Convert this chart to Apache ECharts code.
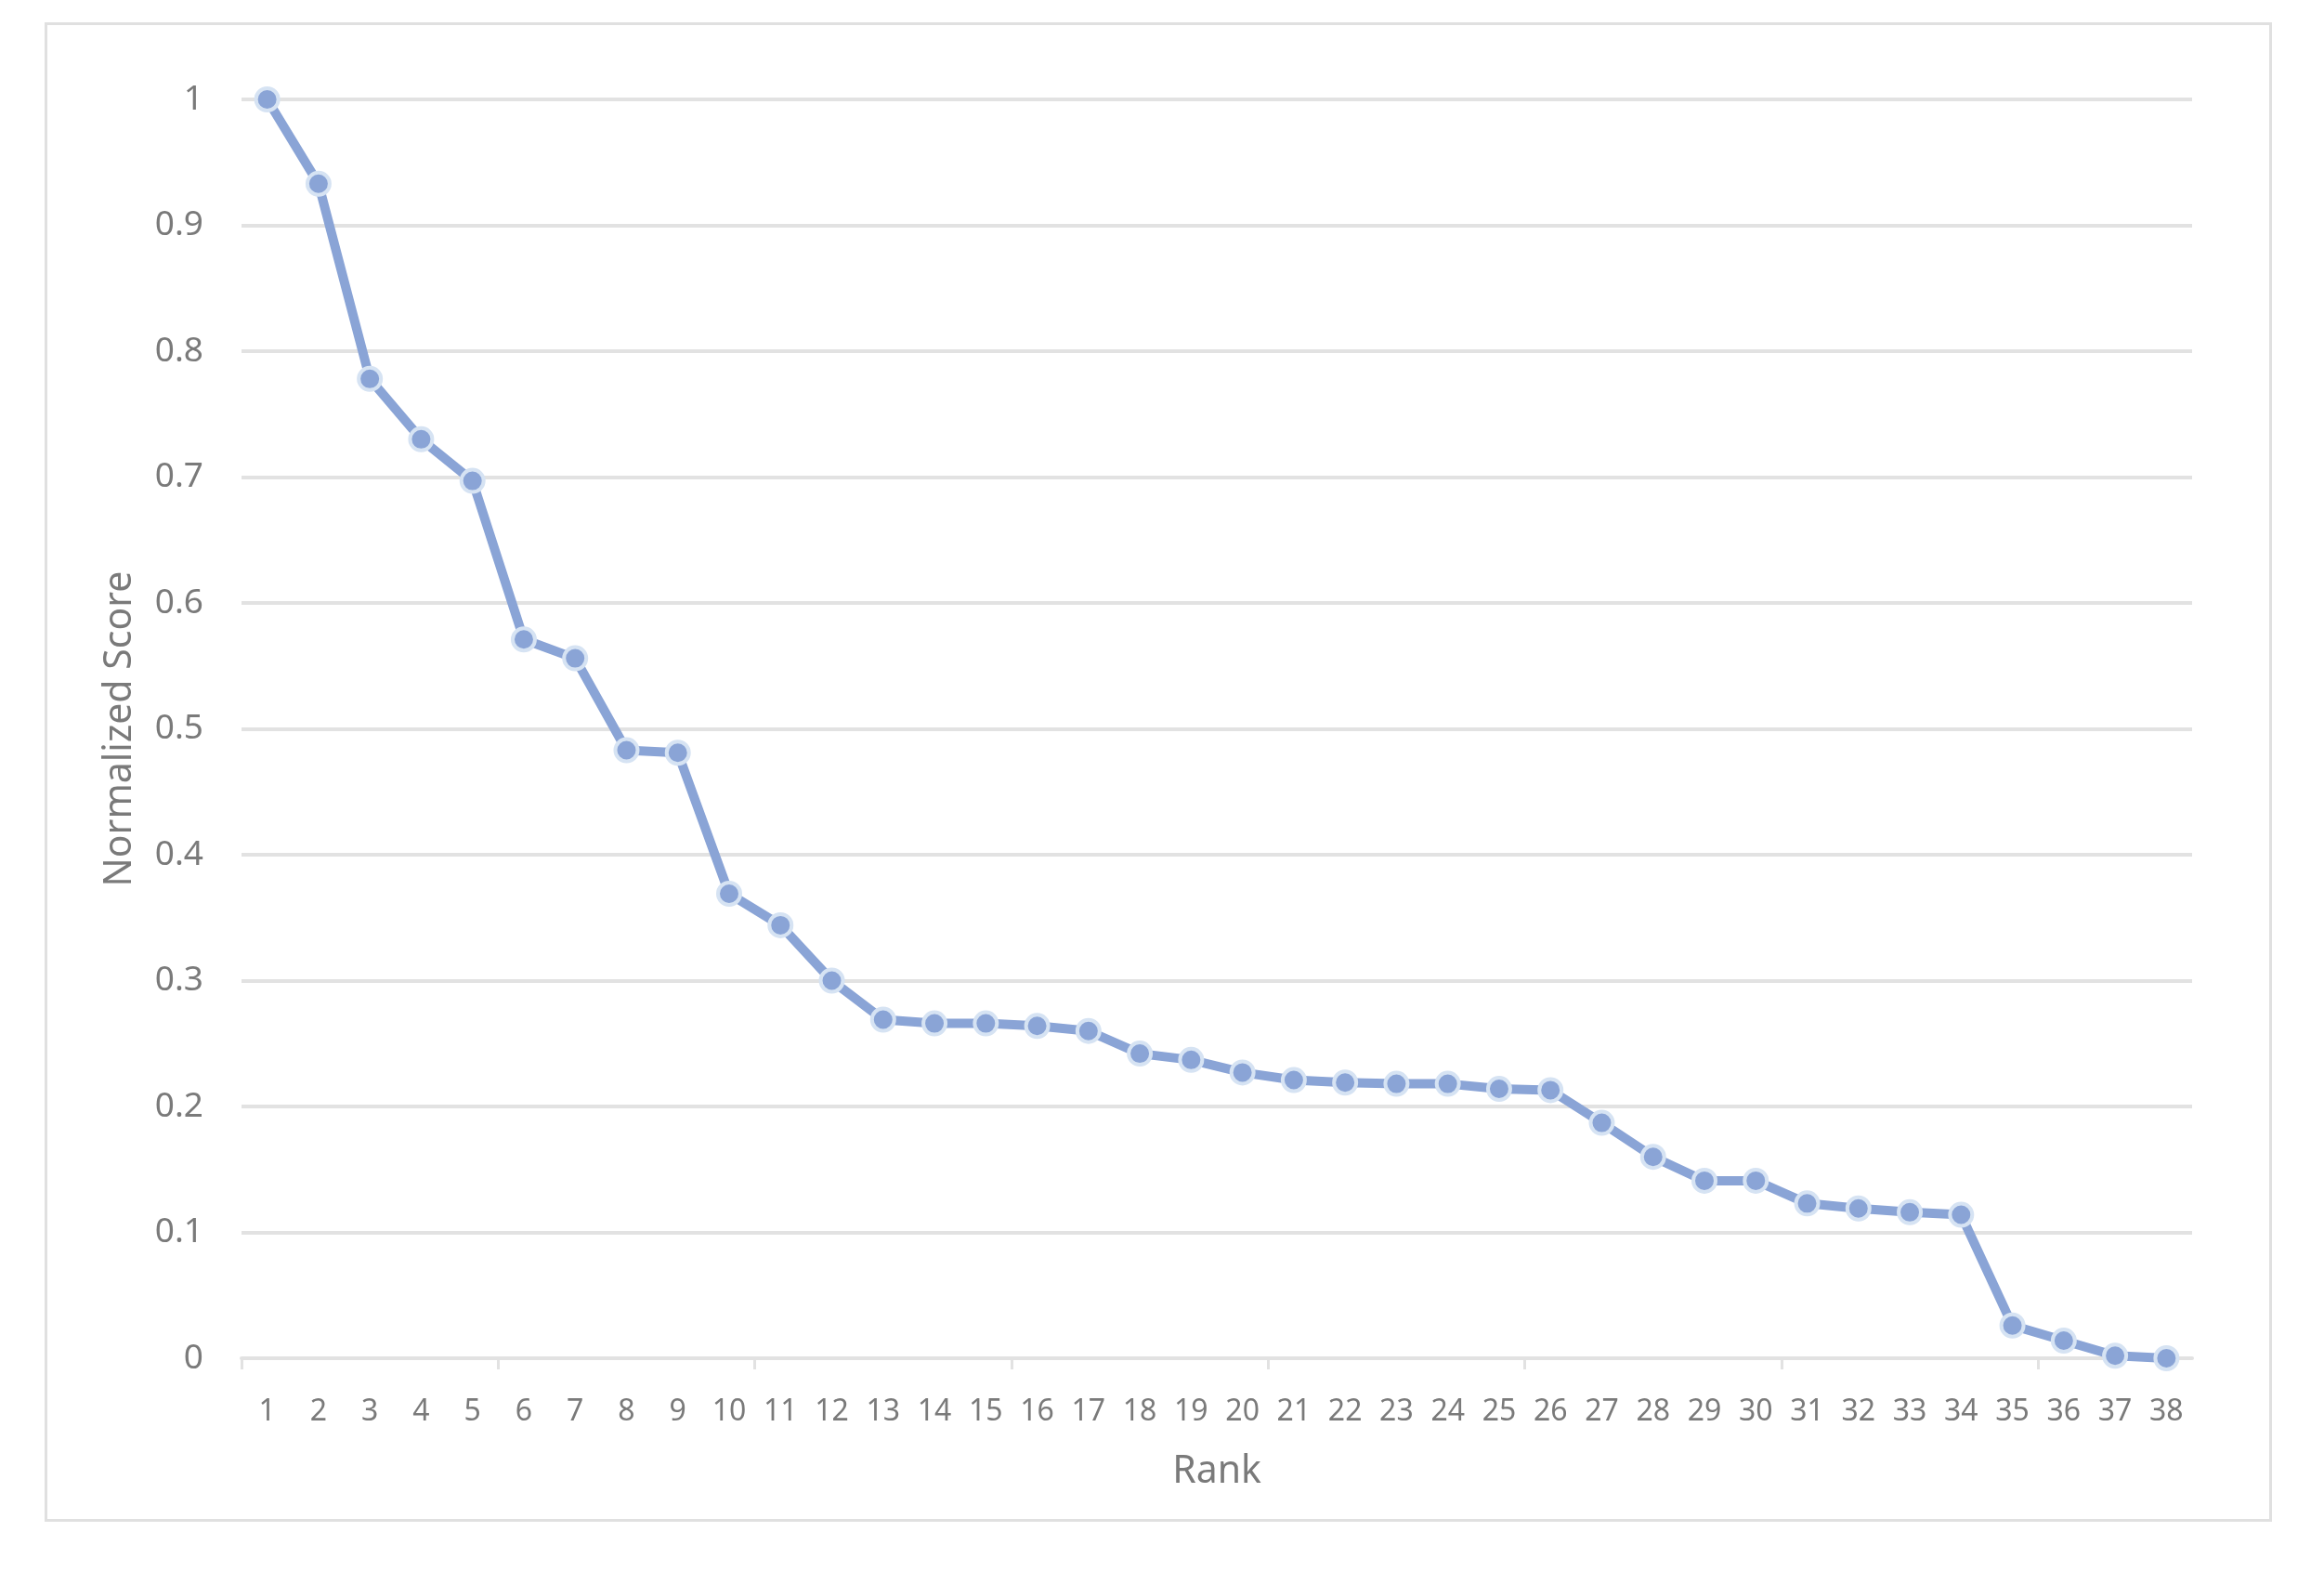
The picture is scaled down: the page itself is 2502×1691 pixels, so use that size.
<!DOCTYPE html>
<html>
<head>
    <meta charset="utf-8">
    <title>Normalized Score by Rank</title>
    <script src="https://cdn.jsdelivr.net/npm/echarts@6/dist/echarts.min.js"></script>
    <style>
        html, body { margin: 0; padding: 0; background: #fff; }
        #main { width: 2502px; height: 1691px; }
    </style>
</head>
<body>
    <div id="main"></div>
    <script type="text/javascript">
        // values
        var ranks = [];
        for (var r = 1; r <= 38; r++) ranks.push(r);
        var scores = [
            1.000, 0.933, 0.778, 0.730, 0.697, 0.571, 0.556, 0.483, 0.481, 0.369,
            0.344, 0.300, 0.269, 0.266, 0.266, 0.264, 0.260, 0.242, 0.237, 0.227,
            0.221, 0.219, 0.218, 0.218, 0.214, 0.213, 0.187, 0.160, 0.141, 0.141,
            0.123, 0.119, 0.116, 0.114, 0.026, 0.014, 0.002, 0.000
        ];
        var yTicks = [0, 0.1, 0.2, 0.3, 0.4, 0.5, 0.6, 0.7, 0.8, 0.9, 1];
        // ticks sit between groups of five ranks
        var xTickPos = [0.5, 5.5, 10.5, 15.5, 20.5, 25.5, 30.5, 35.5];

        var grey = '#7a7a7a';
        var gridGrey = '#e2e2e2';
        var font = '"Noto Sans", "Open Sans", sans-serif';

        var points = ranks.map(function (rk, i) { return [rk, scores[i]]; });

        var myChart = echarts.init(document.getElementById('main'));
        var option = {
            backgroundColor: '#fff',
            animation: false,
            graphic: [{
                type: 'rect',
                left: 47, top: 23,
                shape: { width: 2395, height: 1611 },
                style: { fill: 'none', stroke: '#e0e0e0', lineWidth: 3 },
                silent: true
            }],
            grid: { left: 260, right: 142, top: 107, bottom: 229 },
            xAxis: {
                type: 'value',
                min: 0.5,
                max: 38.5,
                name: 'Rank',
                nameLocation: 'middle',
                nameGap: 102,
                nameTextStyle: { color: grey, fontSize: 41, fontFamily: font },
                axisLine: { show: true, lineStyle: { color: gridGrey, width: 4 } },
                axisTick: {
                    show: true, length: 12, customValues: xTickPos,
                    lineStyle: { color: gridGrey, width: 3 }
                },
                axisLabel: {
                    customValues: ranks,
                    color: grey, fontSize: 32, fontFamily: font, margin: 42
                },
                splitLine: { show: false }
            },
            yAxis: {
                type: 'value',
                min: 0,
                max: 1,
                interval: 0.1,
                name: 'Normalized Score',
                nameLocation: 'middle',
                nameGap: 110,
                nameTextStyle: { color: grey, fontSize: 41, fontFamily: font },
                axisLine: { show: false },
                axisTick: { show: false },
                axisLabel: {
                    color: grey, fontSize: 37, fontFamily: font, margin: 41,
                    formatter: function (v) {
                        var hit = yTicks.filter(function (t) { return Math.abs(t - v) < 1e-6; });
                        return hit.length ? String(hit[0]) : '';
                    }
                },
                splitLine: { show: true, lineStyle: { color: gridGrey, width: 4 } }
            },
            series: [{
                type: 'line',
                data: points,
                symbol: 'circle',
                symbolSize: 24,
                showSymbol: true,
                lineStyle: { color: '#8aa4d6', width: 10 },
                itemStyle: { color: '#8aa4d6', borderColor: '#d6e3f3', borderWidth: 4 },
                z: 3
            }]
        };
        myChart.setOption(option);
    </script>
</body>
</html>
